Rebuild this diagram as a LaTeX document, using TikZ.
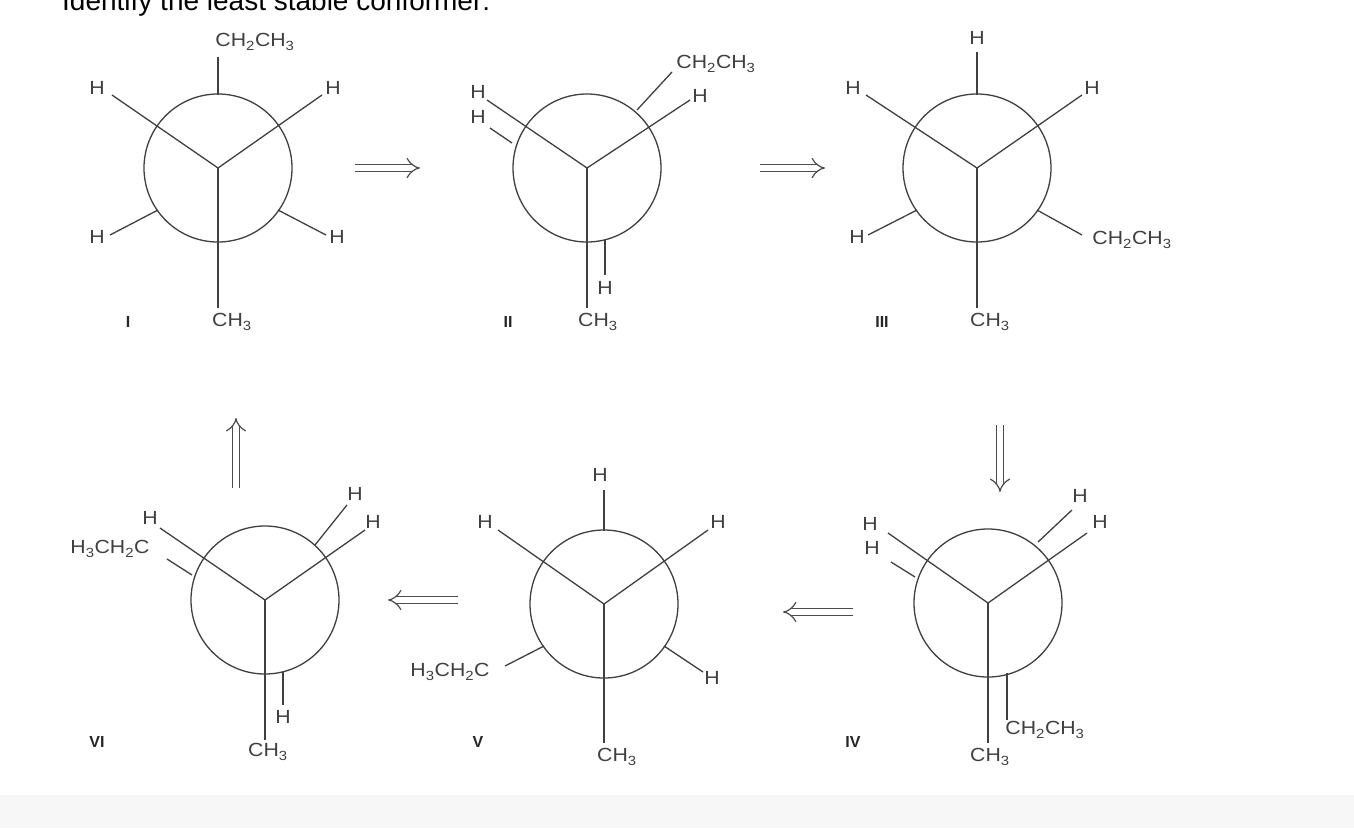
\documentclass[tikz,border=0pt]{standalone}
\usepackage{fontspec}
\usepackage{graphicx}
\setmainfont{Liberation Sans}
\usetikzlibrary{arrows.meta}
\newcommand\lbl[1]{\scalebox{1.12}[1]{#1}}
\newcommand\Et{\lbl{CH\textsubscript{2}CH\textsubscript{3}}}
\newcommand\Me{\lbl{CH\textsubscript{3}}}
\newcommand\EtL{\lbl{H\textsubscript{3}CH\textsubscript{2}C}}
\newcommand\Hh{\lbl{H}}
\begin{document}
\begin{tikzpicture}[x=1pt,y=-1pt,
  bond/.style={draw=black!75,line width=1.3pt},
  ring/.style={draw=black!75,line width=1.3pt,circle,minimum size=148pt,inner sep=0pt},
  lab/.style={text=black!75,font=\fontsize{19}{21}\selectfont,inner sep=1pt},
  rom/.style={text=black!85,font=\fontsize{16}{18}\selectfont\bfseries},
  eq/.style={draw=black!70,line width=1.2pt,double,double distance=6pt,-{Implies[length=8pt,width=16pt]}}]
\useasboundingbox (0,0) rectangle (1354,828);
\clip (0,0) rectangle (1354,828);
\fill[white] (0,0) rectangle (1354,828);
\fill[black!3] (0,795) rectangle (1354,828);
\node[anchor=base west,font=\fontsize{28}{30}\selectfont,inner sep=0pt] (title) at (62,10) {Identify the least stable conformer:};

% ---------- I ----------
\node[ring] (cI) at (218,168) {};
\node[lab] (I1) at (97,88) {\Hh};
\node[lab] (I2) at (333,88) {\Hh};
\node[lab] (I3) at (255,42) {\Et};
\node[lab] (I4) at (97,237) {\Hh};
\node[lab] (I5) at (337,237) {\Hh};
\node[lab] (I6) at (232,322) {\Me};
\node[rom] (rI) at (128,322) {I};
\draw[bond] (112,95) -- (cI.center) -- (322,95);
\draw[bond] (cI.center) -- (218,308);
\draw[bond] (218,95) -- (218,57);
\draw[bond] (158,210) -- (110,235);
\draw[bond] (278,210) -- (326,235);

\draw[eq] (355,168) -- (420,168);

% ---------- II ----------
\node[ring] (cII) at (587,168) {};
\node[lab] (II1) at (478,92) {\Hh};
\node[lab] (II2) at (478,117) {\Hh};
\node[lab] (II3) at (716,64) {\Et};
\node[lab] (II4) at (700,96) {\Hh};
\node[lab] (II5) at (605,288) {\Hh};
\node[lab] (II6) at (598,322) {\Me};
\node[rom] (rII) at (508,322) {II};
\draw[bond] (487,100) -- (cII.center) -- (690,100);
\draw[bond] (cII.center) -- (587,308);
\draw[bond] (512,143) -- (490,128);
\draw[bond] (637,110) -- (672,72);
\draw[bond] (605,240) -- (605,275);

\draw[eq] (760,168) -- (825,168);

% ---------- III ----------
\node[ring] (cIII) at (977,168) {};
\node[lab] (III1) at (853,88) {\Hh};
\node[lab] (III2) at (1092,88) {\Hh};
\node[lab] (III3) at (977,38) {\Hh};
\node[lab] (III4) at (857,237) {\Hh};
\node[lab] (III5) at (1132,240) {\Et};
\node[lab] (III6) at (990,322) {\Me};
\node[rom] (rIII) at (882,322) {III};
\draw[bond] (866,95) -- (cIII.center) -- (1082,95);
\draw[bond] (cIII.center) -- (977,308);
\draw[bond] (977,95) -- (977,52);
\draw[bond] (917,210) -- (868,235);
\draw[bond] (1037,210) -- (1082,235);

\draw[eq] (1000,425) -- (1000,492);

% ---------- IV ----------
\node[ring] (cIV) at (988,603) {};
\node[lab] (IV1) at (870,524) {\Hh};
\node[lab] (IV2) at (872,548) {\Hh};
\node[lab] (IV3) at (1080,496) {\Hh};
\node[lab] (IV4) at (1100,522) {\Hh};
\node[lab] (IV5) at (1045,730) {\Et};
\node[lab] (IV6) at (990,757) {\Me};
\node[rom] (rIV) at (853,742) {IV};
\draw[bond] (888,533) -- (cIV.center) -- (1087,533);
\draw[bond] (cIV.center) -- (988,743);
\draw[bond] (915,577) -- (891,562);
\draw[bond] (1038,542) -- (1072,510);
\draw[bond] (1007,673) -- (1007,720);

\draw[eq] (853,612) -- (783,612);

% ---------- V ----------
\node[ring] (cV) at (604,604) {};
\node[lab] (V1) at (485,522) {\Hh};
\node[lab] (V2) at (718,522) {\Hh};
\node[lab] (V3) at (600,475) {\Hh};
\node[lab] (V4) at (450,672) {\EtL};
\node[lab] (V5) at (712,678) {\Hh};
\node[lab] (V6) at (617,757) {\Me};
\node[rom] (rV) at (478,742) {V};
\draw[bond] (498,530) -- (cV.center) -- (708,530);
\draw[bond] (604,604) -- (604,743);
\draw[bond] (544,646) -- (505,666);
\draw[bond] (664,646) -- (703,672);
\draw[bond] (604,531) -- (604,490);

\draw[eq] (458,600) -- (388,600);

% ---------- VI ----------
\node[ring] (cVI) at (265,600) {};
\node[lab] (VI1) at (150,518) {\Hh};
\node[lab] (VI2) at (110,549) {\EtL};
\node[lab] (VI3) at (355,494) {\Hh};
\node[lab] (VI4) at (373,522) {\Hh};
\node[lab] (VI5) at (283,717) {\Hh};
\node[lab] (VI6) at (268,752) {\Me};
\node[rom] (rVI) at (97,742) {VI};
\draw[bond] (160,528) -- (cVI.center) -- (365,530);
\draw[bond] (cVI.center) -- (265,740);
\draw[bond] (192,575) -- (167,559);
\draw[bond] (315,545) -- (347,505);
\draw[bond] (283,672) -- (283,705);

\draw[eq] (236,488) -- (236,418);
\end{tikzpicture}
\end{document}
